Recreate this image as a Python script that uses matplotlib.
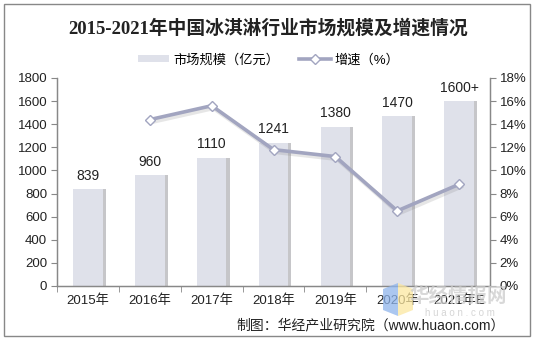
import numpy as np
import matplotlib.pyplot as plt
from matplotlib.patches import Rectangle, Polygon

years = ['2015年', '2016年', '2017年', '2018年', '2019年', '2020年', '2021年E']
market = [839, 960, 1110, 1241, 1380, 1470, 1600]
market_labels = ['839', '960', '1110', '1241', '1380', '1470', '1600+']
growth = [14.4, 15.6, 11.8, 11.2, 6.5, 8.8]  # %, from 2016 on

sans = ['Liberation Sans', 'Noto Sans CJK SC']
plt.rcParams['font.family'] = sans

fig = plt.figure(figsize=(5.37, 3.41), dpi=100)
fig.patch.set_facecolor('white')
ax = fig.add_axes([57 / 537, 55 / 341, 433 / 537, 208 / 341])
ax2 = ax.twinx()

x = np.arange(len(years))
bar_w = 0.48
# soft shadow on the right edge of each bar
ax.bar(x + 0.05, market, width=bar_w, color='#a0a0a6', alpha=0.6, zorder=1)
ax.bar(x, market, width=bar_w, color='#dfe1ea', zorder=2,
       label='市场规模（亿元）')
for xi, v, t in zip(x, market, market_labels):
    ax.text(xi, v + 55, t, ha='center', va='bottom', fontsize=10,
            color='#222222', family=sans)

ax.set_xlim(-0.5, len(years) - 0.5)
ax.set_ylim(0, 1800)
ax.set_yticks(range(0, 1801, 200))
ax.set_xticks(x)
ax.set_xticklabels(years, fontsize=9.5, color='#222222')
ax.set_xticks(np.arange(-0.5, len(years), 1), minor=True)
ax.tick_params(axis='x', which='major', length=0, pad=6)
ax.tick_params(axis='x', which='minor', length=4, color='#888888')
ax.tick_params(axis='y', length=4, color='#888888', labelsize=9.5,
               labelcolor='#222222', pad=3)

# growth line with a faint drop shadow
gx = x[1:]
ax2.plot(gx + 0.03, np.array(growth) - 0.2, color='#777777', lw=3.2,
         alpha=0.18, zorder=3)
ax2.plot(gx, growth, color='#a2a5c0', lw=2.6, zorder=4, marker='D',
         markersize=5.5, markerfacecolor='white', markeredgecolor='#a2a5c0',
         markeredgewidth=1.0, label='增速（%）')
ax2.set_ylim(0, 18)
ax2.set_yticks(range(0, 19, 2))
ax2.set_yticklabels([f'{v}%' for v in range(0, 19, 2)])
ax2.tick_params(axis='y', length=4, color='#888888', labelsize=9.5,
                labelcolor='#222222', pad=3)

for a in (ax, ax2):
    a.spines['top'].set_visible(False)
    for side in ('left', 'right', 'bottom'):
        a.spines[side].set_color('#888888')
        a.spines[side].set_linewidth(0.9)

# title and legend
fig.text(0.5, 1 - 28 / 341, '2015-2021年中国冰淇淋行业市场规模及增速情况',
         ha='center', va='center', fontsize=13.5, fontweight='bold',
         color='#222222', family=['Liberation Serif', 'Noto Sans CJK SC'])
h1, l1 = ax.get_legend_handles_labels()
h2, l2 = ax2.get_legend_handles_labels()
fig.legend(h1 + h2, l1 + l2, loc='center', ncol=2,
           bbox_to_anchor=(0.5, 1 - 60 / 341), frameon=False, fontsize=9.5,
           handlelength=2.4, handleheight=0.5, columnspacing=1.5,
           handletextpad=0.3)

# watermark logo and source note
fig.patches.append(Polygon([(383, 31), (398, 25), (398, 58), (383, 52)],
                           closed=True, transform=None, facecolor='#8fb5ec',
                           alpha=0.75, zorder=0))
fig.patches.append(Polygon([(398, 25), (413, 31), (413, 52), (398, 58)],
                           closed=True, transform=None, facecolor='#fbe7a0',
                           alpha=0.75, zorder=0))
fig.text(458 / 537, 1 - 296 / 341, '华经情报网', ha='center', va='center',
         fontsize=14, fontweight='bold', color='#cccccc', alpha=0.75)
fig.text(460 / 537, 1 - 313 / 341, 'h u a o n . c o m', ha='center',
         va='center', fontsize=7, color='#d6d6d6')
fig.text(505 / 537, 1 - 325 / 341, '制图：华经产业研究院（www.huaon.com）',
         ha='right', va='center', fontsize=10, color='#222222')

# outer frame
fig.patches.append(Rectangle((4 / 537, 5 / 341), 526 / 537, 332 / 341,
                             transform=fig.transFigure, fill=False,
                             edgecolor='#888888', lw=1.0))

fig.savefig('out.png', dpi=100)
